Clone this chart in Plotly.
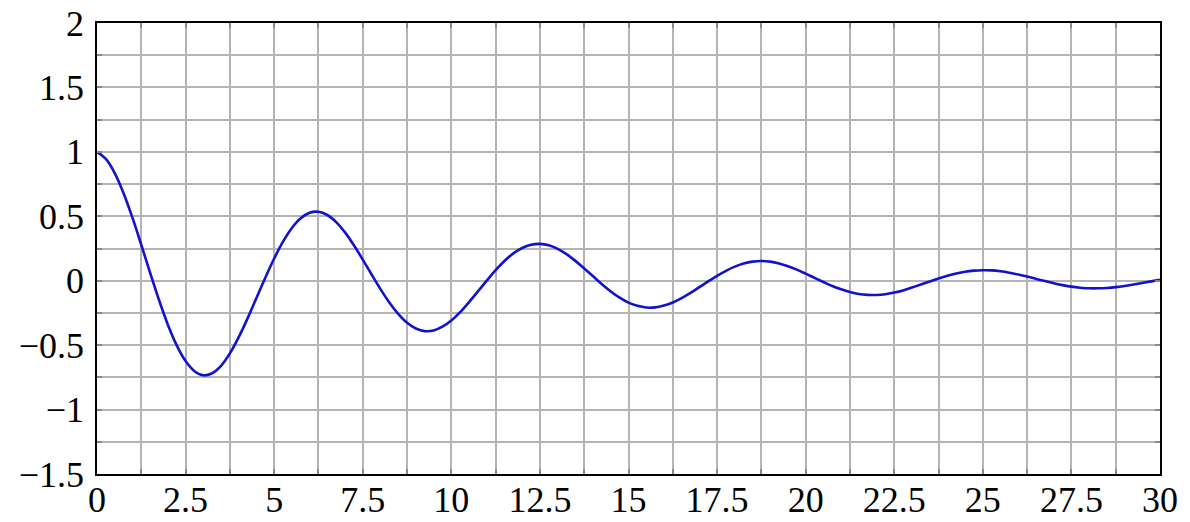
import plotly.graph_objects as go

x_vals = [i * 0.25 for i in range(121)]
y_vals = [1.0, 0.945, 0.835, 0.679, 0.489, 0.278, 0.061, -0.150, -0.341, -0.502,
          -0.624, -0.702, -0.734, -0.718, -0.660, -0.564, -0.438, -0.292, -0.134, 0.023,
          0.172, 0.303, 0.409, 0.484, 0.527, 0.535, 0.510, 0.455, 0.375, 0.275,
          0.164, 0.048, -0.065, -0.169, -0.257, -0.326, -0.371, -0.391, -0.386, -0.357,
          -0.309, -0.244, -0.166, -0.083, 0.001, 0.082, 0.153, 0.212, 0.254, 0.279,
          0.286, 0.275, 0.247, 0.206, 0.154, 0.095, 0.034, -0.027, -0.083, -0.132,
          -0.170, -0.195, -0.208, -0.207, -0.193, -0.169, -0.135, -0.095, -0.050, -0.005,
          0.038, 0.077, 0.109, 0.133, 0.148, 0.153, 0.148, 0.134, 0.113, 0.086,
          0.055, 0.022, -0.010, -0.041, -0.067, -0.088, -0.103, -0.110, -0.111, -0.105,
          -0.092, -0.075, -0.053, -0.030, -0.006, 0.017, 0.038, 0.056, 0.070, 0.078,
          0.081, 0.080, 0.073, 0.062, 0.048, 0.032, 0.014, -0.003, -0.020, -0.034,
          -0.046, -0.054, -0.059, -0.059, -0.056, -0.050, -0.041, -0.030, -0.018, -0.005,
          0.008]

x_ticks = [0, 2.5, 5, 7.5, 10, 12.5, 15, 17.5, 20, 22.5, 25, 27.5, 30]
x_tick_text = ["0", "2.5", "5", "7.5", "10", "12.5", "15", "17.5", "20", "22.5", "25", "27.5", "30"]
y_ticks = [-1.5, -1, -0.5, 0, 0.5, 1, 1.5, 2]
y_tick_text = ["−1.5", "−1", "−0.5", "0", "0.5", "1", "1.5", "2"]

fig = go.Figure()
fig.add_trace(go.Scatter(x=x_vals, y=y_vals, mode="lines",
                         line=dict(color="#1212cc", width=2.6, shape="spline", smoothing=1.0),
                         hoverinfo="skip"))

font = dict(family="Liberation Serif, DejaVu Serif, serif", size=36, color="black")
grid_color = "#b4b4b4"
tick_color = "#8a8a8a"

fig.update_layout(
    width=1190, height=522,
    margin=dict(l=89, r=38, t=15, b=56),
    paper_bgcolor="white", plot_bgcolor="white",
    showlegend=False,
    font=font,
)
fig.update_xaxes(range=[0, 30], tickmode="array", tickvals=x_ticks, ticktext=x_tick_text,
                 showgrid=True, gridcolor=grid_color, gridwidth=1.5,
                 minor=dict(dtick=1.25, tick0=0, showgrid=True, gridcolor=grid_color, gridwidth=1.5,
                            ticks="inside", ticklen=5, tickcolor=tick_color, tickwidth=1.5),
                 showline=True, linecolor="black", linewidth=1.6, mirror="allticks",
                 zeroline=False, ticks="inside", ticklen=5, tickcolor=tick_color, tickwidth=1.5,
                 tickfont=font, ticklabeloverflow="allow", ticklabelstandoff=-7,
                 automargin=False)
fig.update_yaxes(range=[-1.5, 2], tickmode="array", tickvals=y_ticks, ticktext=y_tick_text,
                 showgrid=True, gridcolor=grid_color, gridwidth=1.5,
                 minor=dict(dtick=0.25, tick0=0, showgrid=True, gridcolor=grid_color, gridwidth=1.5,
                            ticks="inside", ticklen=5, tickcolor=tick_color, tickwidth=1.5),
                 showline=True, linecolor="black", linewidth=1.6, mirror="allticks",
                 zeroline=False, ticks="inside", ticklen=5, tickcolor=tick_color, tickwidth=1.5,
                 tickfont=font, ticklabeloverflow="allow", ticklabelstandoff=4,
                 automargin=False)

fig.write_html("out.html")
